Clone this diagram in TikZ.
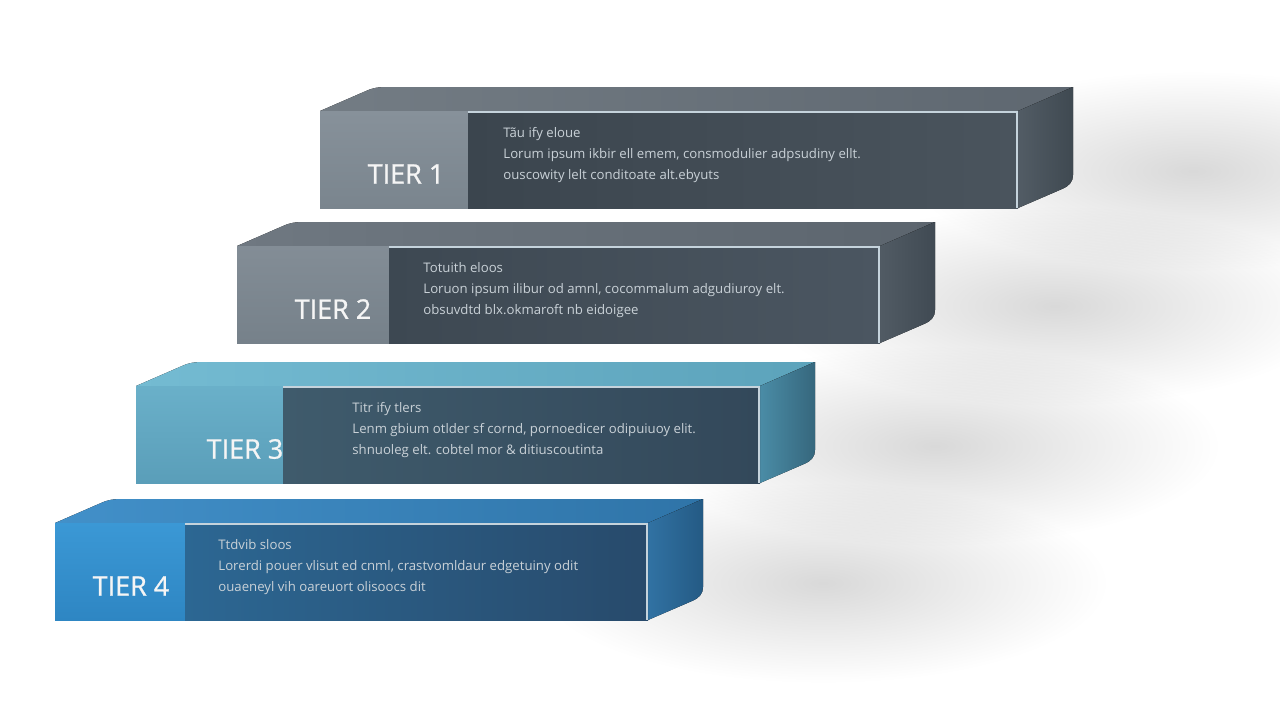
\documentclass[tikz,border=0pt]{standalone}
\usepackage{fontspec}
\setmainfont{Open Sans}
\newfontfamily\tierfont[FakeBold=0.9]{Open Sans}
\usepackage{tikz}
\usetikzlibrary{positioning,fadings}

% tier colours
\definecolor{labA1}{HTML}{87919A}\definecolor{labB1}{HTML}{7A858E}
\definecolor{pnlA1}{HTML}{3B454E}\definecolor{pnlB1}{HTML}{4A545D}
\definecolor{topA1}{HTML}{737C84}\definecolor{topB1}{HTML}{5E6770}
\definecolor{sideA1}{HTML}{525C65}\definecolor{sideB1}{HTML}{3F4951}
\definecolor{labA2}{HTML}{838D96}\definecolor{labB2}{HTML}{76818A}
\definecolor{pnlA2}{HTML}{3D4852}\definecolor{pnlB2}{HTML}{4B5661}
\definecolor{topA2}{HTML}{6F7881}\definecolor{topB2}{HTML}{5C656E}
\definecolor{sideA2}{HTML}{515B64}\definecolor{sideB2}{HTML}{404A53}
\definecolor{labA3}{HTML}{6AB0C9}\definecolor{labB3}{HTML}{5A9EB9}
\definecolor{pnlA3}{HTML}{3F5B6C}\definecolor{pnlB3}{HTML}{33485A}
\definecolor{topA3}{HTML}{74BBD2}\definecolor{topB3}{HTML}{5CA3BB}
\definecolor{sideA3}{HTML}{4A8CA6}\definecolor{sideB3}{HTML}{36677D}
\definecolor{labA4}{HTML}{3B98D5}\definecolor{labB4}{HTML}{2E86C3}
\definecolor{pnlA4}{HTML}{2C6793}\definecolor{pnlB4}{HTML}{284A6B}
\definecolor{topA4}{HTML}{4290C9}\definecolor{topB4}{HTML}{2F74A8}
\definecolor{sideA4}{HTML}{3172A3}\definecolor{sideB4}{HTML}{245A84}
\definecolor{rimline}{HTML}{C5D3DC}
\definecolor{bodytext}{HTML}{C9D1D7}

\tikzfading[name=softshadow, inner color=transparent!85, outer color=transparent!100]

\begin{document}
\begin{tikzpicture}[x=0.5pt,y=-0.5pt,
    tierlabel/.style={text=white!92!gray, font=\tierfont\fontsize{13.5}{13.5}\selectfont, inner sep=0pt},
    tiertext/.style={text=bodytext, font=\fontsize{6.6}{10.6}\selectfont, align=left, anchor=north west, inner sep=0pt}]
    \useasboundingbox[fill=white] (0,0) rectangle (1280,720);
    % Soft shadows
    \foreach \R/\T in {1018/111, 880/246, 760/386, 648/523}
      \fill[black, path fading=softshadow] (\R-110,\T-40) rectangle (\R+460,\T+160);
    % Tier boxes
    \foreach \n/\L/\M/\R/\T/\lx/\tx/\ta/\tb/\tc in {
      1/320/468/1018/111/406/503/{Tãu ify eloue}/{Lorum ipsum ikbir ell emem, consmodulier adpsudiny ellt.}/{ouscowity lelt conditoate alt.ebyuts},
      2/237/389/880/246/333/423/{Totuith eloos}/{Loruon ipsum ilibur od amnl, cocommalum adgudiuroy elt.}/{obsuvdtd blx.okmaroft nb eidoigee},
      3/136/283/760/386/245/352/{Titr ify tlers}/{Lenm gbium otlder sf cornd, pornoedicer odipuiuoy elit.}/{shnuoleg elt. cobtel mor \& ditiuscoutinta},
      4/55/185/648/523/131/218/{Ttdvib sloos}/{Lorerdi pouer vlisut ed cnml, crastvomldaur edgetuiny odit}/{ouaeneyl vih oareuort olisoocs dit}} {
      % top face
      \fill[left color=topA\n, right color=topB\n] (\L,\T) -- (\L+46,\T-20)
        .. controls (\L+52,\T-23) and (\L+58,\T-24) .. (\L+68,\T-24) -- (\R+55,\T-24) -- (\R,\T) -- cycle;
      % side face
      \fill[left color=sideA\n, right color=sideB\n] (\R,\T) -- (\R+55,\T-24) -- (\R+55,\T+64)
        .. controls (\R+55,\T+71) and (\R+51,\T+75) .. (\R+44,\T+78) -- (\R,\T+97) -- cycle;
      % front: label and panel
      \fill[top color=labA\n, bottom color=labB\n] (\L,\T) rectangle (\M,\T+97);
      \fill[left color=pnlA\n, right color=pnlB\n] (\M,\T) rectangle (\R,\T+97);
      \draw[rimline, line width=1.2pt] (\M,\T+1) -- (\R-1,\T+1) -- (\R-1,\T+97);
      \node[tierlabel] (tier\n) at (\lx,\T+63) {TIER \n};
      \node[tiertext] (txt\n) at (\tx,\T+16) {\ta\\\tb\\\tc};
    }
\end{tikzpicture}
\end{document}
